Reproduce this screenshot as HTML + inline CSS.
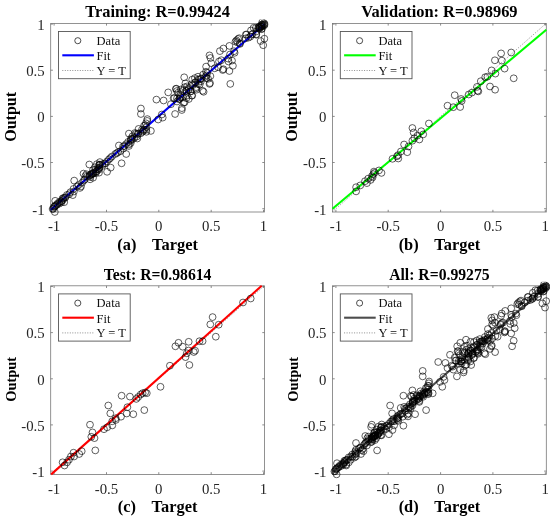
<!DOCTYPE html>
<html lang="en"><head><meta charset="utf-8"><title>Regression plots</title>
<style>
html,body{margin:0;padding:0;background:#fff;}
svg text{font-family:"Liberation Serif","Times New Roman",serif;fill:#000;}
.b{font-size:16.4px;font-weight:bold;}
.tl text{font-size:14.8px;fill:#262626;}
.lg text{font-size:12.5px;fill:#111;}
.pt circle{fill:none;stroke:#000;stroke-opacity:0.7;stroke-width:0.9;}
</style></head><body>
<svg width="550" height="524" viewBox="0 0 550 524" style="display:block">
<rect width="550" height="524" fill="#fff"/>
<g id="panel-a">
<clipPath id="clip-a"><rect x="46.7" y="19.4" width="221.8" height="196.6"/></clipPath>
<rect x="50.7" y="23.4" width="213.8" height="188.6" fill="#fff" stroke="#777" stroke-width="0.8"/>
<path d="M54.1 212.0v-2.2M54.1 23.4v2.2M50.7 208.7h2.2M264.5 208.7h-2.2M106.5 212.0v-2.2M106.5 23.4v2.2M50.7 162.5h2.2M264.5 162.5h-2.2M158.8 212.0v-2.2M158.8 23.4v2.2M50.7 116.4h2.2M264.5 116.4h-2.2M211.2 212.0v-2.2M211.2 23.4v2.2M50.7 70.2h2.2M264.5 70.2h-2.2M263.5 212.0v-2.2M263.5 23.4v2.2M50.7 24.1h2.2M264.5 24.1h-2.2" stroke="#6e6e6e" stroke-width="0.8" fill="none"/>
<g class="tl">
<text x="54.1" y="231.1" text-anchor="middle">-1</text>
<text x="44.7" y="214.5" text-anchor="end">-1</text>
<text x="106.5" y="231.1" text-anchor="middle">-0.5</text>
<text x="44.7" y="168.3" text-anchor="end">-0.5</text>
<text x="158.8" y="231.1" text-anchor="middle">0</text>
<text x="44.7" y="122.2" text-anchor="end">0</text>
<text x="211.2" y="231.1" text-anchor="middle">0.5</text>
<text x="44.7" y="76.0" text-anchor="end">0.5</text>
<text x="263.5" y="231.1" text-anchor="middle">1</text>
<text x="44.7" y="29.9" text-anchor="end">1</text>
</g>
<line x1="50.7" y1="211.7" x2="263.5" y2="24.1" stroke="#6a6a6a" stroke-width="0.75" stroke-dasharray="1 1.5" clip-path="url(#clip-a)"/>
<line x1="50.7" y1="209.9" x2="264.5" y2="24.2" stroke="#0000ff" stroke-width="2.1"/>
<g class="pt" clip-path="url(#clip-a)">
<circle cx="74.2" cy="180.6" r="3.4"/>
<circle cx="83.5" cy="173.6" r="3.4"/>
<circle cx="89.3" cy="164.5" r="3.4"/>
<circle cx="55.2" cy="200.8" r="3.4"/>
<circle cx="54.8" cy="212.0" r="3.4"/>
<circle cx="80.0" cy="187.9" r="3.4"/>
<circle cx="72.8" cy="195.1" r="3.4"/>
<circle cx="64.2" cy="202.2" r="3.4"/>
<circle cx="121.6" cy="163.3" r="3.4"/>
<circle cx="126.2" cy="154.0" r="3.4"/>
<circle cx="118.9" cy="145.5" r="3.4"/>
<circle cx="128.9" cy="133.6" r="3.4"/>
<circle cx="107.1" cy="171.8" r="3.4"/>
<circle cx="110.7" cy="167.6" r="3.4"/>
<circle cx="147.1" cy="120.9" r="3.4"/>
<circle cx="140.9" cy="108.5" r="3.4"/>
<circle cx="140.9" cy="114.0" r="3.4"/>
<circle cx="147.3" cy="119.1" r="3.4"/>
<circle cx="150.9" cy="130.9" r="3.4"/>
<circle cx="146.4" cy="131.8" r="3.4"/>
<circle cx="156.4" cy="99.6" r="3.4"/>
<circle cx="163.6" cy="100.5" r="3.4"/>
<circle cx="168.2" cy="92.4" r="3.4"/>
<circle cx="161.8" cy="114.5" r="3.4"/>
<circle cx="162.7" cy="117.6" r="3.4"/>
<circle cx="158.2" cy="119.5" r="3.4"/>
<circle cx="175.1" cy="114.0" r="3.4"/>
<circle cx="181.8" cy="110.0" r="3.4"/>
<circle cx="170.9" cy="104.2" r="3.4"/>
<circle cx="173.6" cy="98.2" r="3.4"/>
<circle cx="176.4" cy="88.7" r="3.4"/>
<circle cx="178.2" cy="92.7" r="3.4"/>
<circle cx="179.1" cy="99.1" r="3.4"/>
<circle cx="184.2" cy="77.3" r="3.4"/>
<circle cx="183.6" cy="102.7" r="3.4"/>
<circle cx="186.4" cy="98.2" r="3.4"/>
<circle cx="191.8" cy="95.5" r="3.4"/>
<circle cx="203.6" cy="91.8" r="3.4"/>
<circle cx="210.0" cy="83.1" r="3.4"/>
<circle cx="206.4" cy="78.2" r="3.4"/>
<circle cx="222.7" cy="70.0" r="3.4"/>
<circle cx="230.3" cy="83.9" r="3.4"/>
<circle cx="223.4" cy="69.2" r="3.4"/>
<circle cx="229.4" cy="71.0" r="3.4"/>
<circle cx="232.9" cy="65.8" r="3.4"/>
<circle cx="232.0" cy="60.6" r="3.4"/>
<circle cx="228.5" cy="61.5" r="3.4"/>
<circle cx="219.0" cy="61.5" r="3.4"/>
<circle cx="209.5" cy="55.4" r="3.4"/>
<circle cx="210.4" cy="58.0" r="3.4"/>
<circle cx="211.3" cy="63.2" r="3.4"/>
<circle cx="206.1" cy="66.6" r="3.4"/>
<circle cx="210.4" cy="76.1" r="3.4"/>
<circle cx="209.5" cy="83.9" r="3.4"/>
<circle cx="219.9" cy="51.1" r="3.4"/>
<circle cx="223.4" cy="48.5" r="3.4"/>
<circle cx="229.4" cy="45.9" r="3.4"/>
<circle cx="234.6" cy="52.8" r="3.4"/>
<circle cx="235.5" cy="41.6" r="3.4"/>
<circle cx="238.1" cy="39.0" r="3.4"/>
<circle cx="239.8" cy="43.3" r="3.4"/>
<circle cx="245.8" cy="34.7" r="3.4"/>
<circle cx="251.0" cy="30.4" r="3.4"/>
<circle cx="253.6" cy="27.8" r="3.4"/>
<circle cx="256.2" cy="34.7" r="3.4"/>
<circle cx="260.6" cy="41.0" r="3.4"/>
<circle cx="263.2" cy="45.2" r="3.4"/>
<circle cx="264.4" cy="38.7" r="3.4"/>
<circle cx="246.5" cy="34.5" r="3.4"/>
<circle cx="181.9" cy="108.1" r="3.4"/>
<circle cx="202.6" cy="90.8" r="3.4"/>
<circle cx="200.9" cy="81.3" r="3.4"/>
<circle cx="175.8" cy="88.9" r="3.4"/>
<circle cx="177.0" cy="91.0" r="3.4"/>
<circle cx="198.0" cy="76.7" r="3.4"/>
<circle cx="192.2" cy="79.6" r="3.4"/>
<circle cx="185.4" cy="83.4" r="3.4"/>
<circle cx="187.1" cy="86.4" r="3.4"/>
<circle cx="188.8" cy="88.0" r="3.4"/>
<circle cx="184.6" cy="87.2" r="3.4"/>
<circle cx="191.7" cy="84.3" r="3.4"/>
<circle cx="199.7" cy="84.7" r="3.4"/>
<circle cx="196.4" cy="89.7" r="3.4"/>
<circle cx="192.2" cy="95.6" r="3.4"/>
<circle cx="184.6" cy="102.3" r="3.4"/>
<circle cx="177.0" cy="101.5" r="3.4"/>
<circle cx="174.5" cy="98.1" r="3.4"/>
<circle cx="180.4" cy="94.8" r="3.4"/>
<circle cx="203.1" cy="74.6" r="3.4"/>
<circle cx="207.3" cy="72.9" r="3.4"/>
<circle cx="200.6" cy="78.8" r="3.4"/>
<circle cx="208.1" cy="78.8" r="3.4"/>
<circle cx="188.8" cy="99.0" r="3.4"/>
<circle cx="195.5" cy="82.2" r="3.4"/>
<circle cx="190.5" cy="91.4" r="3.4"/>
<circle cx="182.9" cy="90.6" r="3.4"/>
<circle cx="179.6" cy="99.0" r="3.4"/>
<circle cx="236.5" cy="40.4" r="3.4"/>
<circle cx="237.4" cy="42.2" r="3.4"/>
<circle cx="239.2" cy="38.2" r="3.4"/>
<circle cx="52.6" cy="209.0" r="3.4"/>
<circle cx="53.4" cy="208.7" r="3.4"/>
<circle cx="53.9" cy="206.9" r="3.4"/>
<circle cx="54.8" cy="206.5" r="3.4"/>
<circle cx="55.0" cy="205.9" r="3.4"/>
<circle cx="56.0" cy="205.4" r="3.4"/>
<circle cx="57.1" cy="204.6" r="3.4"/>
<circle cx="57.4" cy="203.7" r="3.4"/>
<circle cx="59.3" cy="203.6" r="3.4"/>
<circle cx="59.1" cy="202.2" r="3.4"/>
<circle cx="61.4" cy="202.4" r="3.4"/>
<circle cx="61.0" cy="201.4" r="3.4"/>
<circle cx="61.7" cy="200.9" r="3.4"/>
<circle cx="63.0" cy="199.7" r="3.4"/>
<circle cx="62.5" cy="198.5" r="3.4"/>
<circle cx="63.6" cy="198.0" r="3.4"/>
<circle cx="65.0" cy="197.8" r="3.4"/>
<circle cx="65.4" cy="197.2" r="3.4"/>
<circle cx="66.9" cy="195.0" r="3.4"/>
<circle cx="69.2" cy="194.2" r="3.4"/>
<circle cx="70.4" cy="192.2" r="3.4"/>
<circle cx="73.9" cy="191.5" r="3.4"/>
<circle cx="73.5" cy="188.9" r="3.4"/>
<circle cx="76.9" cy="186.5" r="3.4"/>
<circle cx="78.5" cy="185.1" r="3.4"/>
<circle cx="81.0" cy="186.5" r="3.4"/>
<circle cx="82.1" cy="182.7" r="3.4"/>
<circle cx="83.8" cy="180.5" r="3.4"/>
<circle cx="84.7" cy="179.5" r="3.4"/>
<circle cx="85.4" cy="176.0" r="3.4"/>
<circle cx="87.2" cy="176.7" r="3.4"/>
<circle cx="90.1" cy="179.3" r="3.4"/>
<circle cx="86.5" cy="174.2" r="3.4"/>
<circle cx="90.1" cy="177.0" r="3.4"/>
<circle cx="89.5" cy="175.7" r="3.4"/>
<circle cx="90.0" cy="175.0" r="3.4"/>
<circle cx="93.1" cy="177.7" r="3.4"/>
<circle cx="91.0" cy="174.7" r="3.4"/>
<circle cx="91.6" cy="174.1" r="3.4"/>
<circle cx="92.0" cy="173.6" r="3.4"/>
<circle cx="92.9" cy="173.9" r="3.4"/>
<circle cx="93.7" cy="173.2" r="3.4"/>
<circle cx="93.6" cy="172.7" r="3.4"/>
<circle cx="95.7" cy="173.3" r="3.4"/>
<circle cx="93.0" cy="170.1" r="3.4"/>
<circle cx="95.9" cy="171.6" r="3.4"/>
<circle cx="96.6" cy="171.4" r="3.4"/>
<circle cx="95.4" cy="169.5" r="3.4"/>
<circle cx="99.0" cy="172.7" r="3.4"/>
<circle cx="95.0" cy="167.2" r="3.4"/>
<circle cx="97.7" cy="169.3" r="3.4"/>
<circle cx="99.1" cy="169.6" r="3.4"/>
<circle cx="98.8" cy="168.1" r="3.4"/>
<circle cx="99.3" cy="167.9" r="3.4"/>
<circle cx="96.9" cy="164.1" r="3.4"/>
<circle cx="99.1" cy="165.3" r="3.4"/>
<circle cx="99.4" cy="164.8" r="3.4"/>
<circle cx="99.8" cy="164.7" r="3.4"/>
<circle cx="102.4" cy="165.9" r="3.4"/>
<circle cx="99.9" cy="162.1" r="3.4"/>
<circle cx="102.2" cy="164.2" r="3.4"/>
<circle cx="104.3" cy="163.7" r="3.4"/>
<circle cx="105.3" cy="163.3" r="3.4"/>
<circle cx="107.0" cy="161.4" r="3.4"/>
<circle cx="108.9" cy="159.4" r="3.4"/>
<circle cx="110.3" cy="158.1" r="3.4"/>
<circle cx="111.9" cy="156.5" r="3.4"/>
<circle cx="115.3" cy="154.0" r="3.4"/>
<circle cx="116.8" cy="153.1" r="3.4"/>
<circle cx="118.2" cy="152.1" r="3.4"/>
<circle cx="120.5" cy="151.1" r="3.4"/>
<circle cx="123.3" cy="148.6" r="3.4"/>
<circle cx="123.0" cy="146.5" r="3.4"/>
<circle cx="124.4" cy="145.9" r="3.4"/>
<circle cx="126.1" cy="144.1" r="3.4"/>
<circle cx="128.9" cy="146.0" r="3.4"/>
<circle cx="128.8" cy="144.5" r="3.4"/>
<circle cx="128.1" cy="141.9" r="3.4"/>
<circle cx="130.8" cy="142.9" r="3.4"/>
<circle cx="130.9" cy="140.7" r="3.4"/>
<circle cx="131.1" cy="139.5" r="3.4"/>
<circle cx="131.0" cy="138.6" r="3.4"/>
<circle cx="132.6" cy="139.1" r="3.4"/>
<circle cx="132.4" cy="136.3" r="3.4"/>
<circle cx="134.4" cy="137.8" r="3.4"/>
<circle cx="137.3" cy="138.5" r="3.4"/>
<circle cx="136.8" cy="136.5" r="3.4"/>
<circle cx="135.0" cy="133.0" r="3.4"/>
<circle cx="136.2" cy="133.7" r="3.4"/>
<circle cx="137.7" cy="134.1" r="3.4"/>
<circle cx="138.4" cy="133.4" r="3.4"/>
<circle cx="140.7" cy="133.3" r="3.4"/>
<circle cx="138.6" cy="128.9" r="3.4"/>
<circle cx="142.5" cy="131.8" r="3.4"/>
<circle cx="142.0" cy="129.6" r="3.4"/>
<circle cx="143.2" cy="130.7" r="3.4"/>
<circle cx="143.9" cy="129.8" r="3.4"/>
<circle cx="146.2" cy="129.8" r="3.4"/>
<circle cx="144.0" cy="125.8" r="3.4"/>
<circle cx="146.5" cy="127.1" r="3.4"/>
<circle cx="145.3" cy="125.3" r="3.4"/>
<circle cx="145.9" cy="123.3" r="3.4"/>
<circle cx="177.0" cy="98.4" r="3.4"/>
<circle cx="180.6" cy="97.3" r="3.4"/>
<circle cx="183.0" cy="97.4" r="3.4"/>
<circle cx="180.8" cy="89.5" r="3.4"/>
<circle cx="187.0" cy="95.5" r="3.4"/>
<circle cx="186.2" cy="90.8" r="3.4"/>
<circle cx="191.0" cy="91.4" r="3.4"/>
<circle cx="195.8" cy="88.5" r="3.4"/>
<circle cx="196.1" cy="87.1" r="3.4"/>
<circle cx="194.9" cy="78.1" r="3.4"/>
<circle cx="186.4" cy="91.1" r="3.4"/>
<circle cx="188.4" cy="90.0" r="3.4"/>
<circle cx="192.8" cy="85.2" r="3.4"/>
<circle cx="194.9" cy="82.8" r="3.4"/>
<circle cx="198.3" cy="84.1" r="3.4"/>
<circle cx="197.8" cy="79.6" r="3.4"/>
<circle cx="201.4" cy="78.6" r="3.4"/>
<circle cx="205.6" cy="76.7" r="3.4"/>
<circle cx="199.3" cy="79.6" r="3.4"/>
<circle cx="206.3" cy="75.4" r="3.4"/>
<circle cx="206.0" cy="71.7" r="3.4"/>
<circle cx="214.7" cy="68.3" r="3.4"/>
<circle cx="218.1" cy="67.2" r="3.4"/>
<circle cx="221.3" cy="60.2" r="3.4"/>
<circle cx="228.1" cy="58.6" r="3.4"/>
<circle cx="230.0" cy="54.5" r="3.4"/>
<circle cx="234.0" cy="51.2" r="3.4"/>
<circle cx="240.0" cy="43.9" r="3.4"/>
<circle cx="245.6" cy="38.4" r="3.4"/>
<circle cx="248.5" cy="37.6" r="3.4"/>
<circle cx="250.4" cy="36.6" r="3.4"/>
<circle cx="251.4" cy="34.7" r="3.4"/>
<circle cx="252.6" cy="34.0" r="3.4"/>
<circle cx="256.2" cy="34.3" r="3.4"/>
<circle cx="256.5" cy="31.4" r="3.4"/>
<circle cx="255.8" cy="28.0" r="3.4"/>
<circle cx="258.4" cy="27.4" r="3.4"/>
<circle cx="259.2" cy="28.7" r="3.4"/>
<circle cx="258.8" cy="27.7" r="3.4"/>
<circle cx="259.8" cy="27.9" r="3.4"/>
<circle cx="261.4" cy="29.2" r="3.4"/>
<circle cx="259.3" cy="26.5" r="3.4"/>
<circle cx="262.0" cy="28.7" r="3.4"/>
<circle cx="260.6" cy="26.7" r="3.4"/>
<circle cx="261.1" cy="26.6" r="3.4"/>
<circle cx="261.8" cy="26.7" r="3.4"/>
<circle cx="261.5" cy="25.7" r="3.4"/>
<circle cx="261.6" cy="24.7" r="3.4"/>
<circle cx="262.5" cy="25.5" r="3.4"/>
<circle cx="262.1" cy="24.4" r="3.4"/>
<circle cx="264.1" cy="25.5" r="3.4"/>
<circle cx="263.9" cy="24.5" r="3.4"/>
<circle cx="262.2" cy="22.2" r="3.4"/>
<circle cx="264.8" cy="24.3" r="3.4"/>
<circle cx="264.0" cy="23.2" r="3.4"/>
</g>
<rect x="58.5" y="31.5" width="71.7" height="47.2" fill="#fff" stroke="#555" stroke-width="0.9"/>
<circle cx="77.8" cy="40.7" r="3.05" fill="none" stroke="#222" stroke-width="0.8"/>
<line x1="62.3" x2="93.9" y1="55.3" y2="55.3" stroke="#0000ff" stroke-width="2.1"/>
<line x1="62.3" x2="93.9" y1="70.5" y2="70.5" stroke="#6a6a6a" stroke-width="0.75" stroke-dasharray="1 1.5"/>
<g class="lg"><text x="96.6" y="44.6">Data</text><text x="96.6" y="60.2">Fit</text><text x="96.6" y="74.9">Y = T</text></g>
<text class="b" style="font-size:16.4px" x="157.6" y="17.2" text-anchor="middle">Training: R=0.99424</text>
<text class="b xl" x="157.6" y="249.8" text-anchor="middle">(a)<tspan dx="15.6">Target</tspan></text>
<text class="b" style="font-size:16.0px" transform="translate(15.6 116.9) rotate(-90)" text-anchor="middle">Output</text>
</g>
<g id="panel-b">
<clipPath id="clip-b"><rect x="328.5" y="19.4" width="221.8" height="196.6"/></clipPath>
<rect x="332.5" y="23.4" width="213.8" height="188.6" fill="#fff" stroke="#777" stroke-width="0.8"/>
<path d="M335.9 212.0v-2.2M335.9 23.4v2.2M332.5 208.7h2.2M546.3 208.7h-2.2M388.2 212.0v-2.2M388.2 23.4v2.2M332.5 162.5h2.2M546.3 162.5h-2.2M440.6 212.0v-2.2M440.6 23.4v2.2M332.5 116.4h2.2M546.3 116.4h-2.2M492.9 212.0v-2.2M492.9 23.4v2.2M332.5 70.2h2.2M546.3 70.2h-2.2M545.3 212.0v-2.2M545.3 23.4v2.2M332.5 24.1h2.2M546.3 24.1h-2.2" stroke="#6e6e6e" stroke-width="0.8" fill="none"/>
<g class="tl">
<text x="335.9" y="231.1" text-anchor="middle">-1</text>
<text x="326.5" y="214.5" text-anchor="end">-1</text>
<text x="388.2" y="231.1" text-anchor="middle">-0.5</text>
<text x="326.5" y="168.3" text-anchor="end">-0.5</text>
<text x="440.6" y="231.1" text-anchor="middle">0</text>
<text x="326.5" y="122.2" text-anchor="end">0</text>
<text x="492.9" y="231.1" text-anchor="middle">0.5</text>
<text x="326.5" y="76.0" text-anchor="end">0.5</text>
<text x="545.3" y="231.1" text-anchor="middle">1</text>
<text x="326.5" y="29.9" text-anchor="end">1</text>
</g>
<line x1="332.5" y1="211.7" x2="545.3" y2="24.1" stroke="#6a6a6a" stroke-width="0.75" stroke-dasharray="1 1.5" clip-path="url(#clip-b)"/>
<line x1="332.5" y1="208.8" x2="546.3" y2="29.7" stroke="#00ff00" stroke-width="2.1"/>
<g class="pt" clip-path="url(#clip-b)">
<circle cx="356.1" cy="187.2" r="3.4"/>
<circle cx="356.1" cy="191.4" r="3.4"/>
<circle cx="360.3" cy="185.4" r="3.4"/>
<circle cx="365.0" cy="181.2" r="3.4"/>
<circle cx="366.9" cy="183.1" r="3.4"/>
<circle cx="368.2" cy="178.6" r="3.4"/>
<circle cx="370.7" cy="179.9" r="3.4"/>
<circle cx="372.0" cy="176.1" r="3.4"/>
<circle cx="373.3" cy="174.2" r="3.4"/>
<circle cx="373.9" cy="171.6" r="3.4"/>
<circle cx="372.6" cy="177.4" r="3.4"/>
<circle cx="374.5" cy="172.9" r="3.4"/>
<circle cx="379.0" cy="170.4" r="3.4"/>
<circle cx="381.5" cy="172.9" r="3.4"/>
<circle cx="392.5" cy="158.8" r="3.4"/>
<circle cx="397.0" cy="156.3" r="3.4"/>
<circle cx="398.3" cy="158.5" r="3.4"/>
<circle cx="398.1" cy="155.1" r="3.4"/>
<circle cx="400.9" cy="151.5" r="3.4"/>
<circle cx="407.3" cy="152.2" r="3.4"/>
<circle cx="404.1" cy="144.5" r="3.4"/>
<circle cx="408.5" cy="146.5" r="3.4"/>
<circle cx="412.4" cy="140.7" r="3.4"/>
<circle cx="414.3" cy="138.2" r="3.4"/>
<circle cx="412.4" cy="128.0" r="3.4"/>
<circle cx="413.6" cy="132.5" r="3.4"/>
<circle cx="419.4" cy="139.5" r="3.4"/>
<circle cx="421.3" cy="131.2" r="3.4"/>
<circle cx="423.2" cy="134.4" r="3.4"/>
<circle cx="417.5" cy="135.6" r="3.4"/>
<circle cx="428.9" cy="123.5" r="3.4"/>
<circle cx="447.5" cy="105.7" r="3.4"/>
<circle cx="453.3" cy="107.2" r="3.4"/>
<circle cx="460.2" cy="107.0" r="3.4"/>
<circle cx="454.7" cy="95.2" r="3.4"/>
<circle cx="461.1" cy="99.0" r="3.4"/>
<circle cx="461.7" cy="100.9" r="3.4"/>
<circle cx="468.7" cy="94.5" r="3.4"/>
<circle cx="471.9" cy="92.6" r="3.4"/>
<circle cx="477.0" cy="86.9" r="3.4"/>
<circle cx="477.6" cy="90.7" r="3.4"/>
<circle cx="478.3" cy="91.4" r="3.4"/>
<circle cx="480.8" cy="81.2" r="3.4"/>
<circle cx="485.2" cy="77.2" r="3.4"/>
<circle cx="487.4" cy="76.7" r="3.4"/>
<circle cx="491.6" cy="70.4" r="3.4"/>
<circle cx="495.4" cy="73.6" r="3.4"/>
<circle cx="490.0" cy="86.5" r="3.4"/>
<circle cx="495.1" cy="89.7" r="3.4"/>
<circle cx="494.9" cy="60.3" r="3.4"/>
<circle cx="501.8" cy="60.6" r="3.4"/>
<circle cx="501.1" cy="53.4" r="3.4"/>
<circle cx="504.6" cy="68.6" r="3.4"/>
<circle cx="511.2" cy="52.5" r="3.4"/>
<circle cx="513.7" cy="78.3" r="3.4"/>
</g>
<rect x="340.3" y="31.5" width="71.7" height="47.2" fill="#fff" stroke="#555" stroke-width="0.9"/>
<circle cx="359.6" cy="40.7" r="3.05" fill="none" stroke="#222" stroke-width="0.8"/>
<line x1="344.1" x2="375.7" y1="55.3" y2="55.3" stroke="#00ff00" stroke-width="2.1"/>
<line x1="344.1" x2="375.7" y1="70.5" y2="70.5" stroke="#6a6a6a" stroke-width="0.75" stroke-dasharray="1 1.5"/>
<g class="lg"><text x="378.4" y="44.6">Data</text><text x="378.4" y="60.2">Fit</text><text x="378.4" y="74.9">Y = T</text></g>
<text class="b" style="font-size:16.4px" x="439.4" y="17.2" text-anchor="middle">Validation: R=0.98969</text>
<text class="b xl" x="439.4" y="249.8" text-anchor="middle">(b)<tspan dx="15.6">Target</tspan></text>
<text class="b" style="font-size:16.0px" transform="translate(297.4 116.9) rotate(-90)" text-anchor="middle">Output</text>
</g>
<g id="panel-c">
<clipPath id="clip-c"><rect x="46.7" y="281.8" width="221.8" height="196.6"/></clipPath>
<rect x="50.7" y="285.8" width="213.8" height="188.6" fill="#fff" stroke="#777" stroke-width="0.8"/>
<path d="M54.1 474.4v-2.2M54.1 285.8v2.2M50.7 471.1h2.2M264.5 471.1h-2.2M106.5 474.4v-2.2M106.5 285.8v2.2M50.7 424.9h2.2M264.5 424.9h-2.2M158.8 474.4v-2.2M158.8 285.8v2.2M50.7 378.8h2.2M264.5 378.8h-2.2M211.2 474.4v-2.2M211.2 285.8v2.2M50.7 332.6h2.2M264.5 332.6h-2.2M263.5 474.4v-2.2M263.5 285.8v2.2M50.7 286.5h2.2M264.5 286.5h-2.2" stroke="#6e6e6e" stroke-width="0.8" fill="none"/>
<g class="tl">
<text x="54.1" y="493.5" text-anchor="middle">-1</text>
<text x="44.7" y="476.9" text-anchor="end">-1</text>
<text x="106.5" y="493.5" text-anchor="middle">-0.5</text>
<text x="44.7" y="430.8" text-anchor="end">-0.5</text>
<text x="158.8" y="493.5" text-anchor="middle">0</text>
<text x="44.7" y="384.6" text-anchor="end">0</text>
<text x="211.2" y="493.5" text-anchor="middle">0.5</text>
<text x="44.7" y="338.4" text-anchor="end">0.5</text>
<text x="263.5" y="493.5" text-anchor="middle">1</text>
<text x="44.7" y="292.3" text-anchor="end">1</text>
</g>
<line x1="50.7" y1="474.1" x2="263.5" y2="286.5" stroke="#6a6a6a" stroke-width="0.75" stroke-dasharray="1 1.5" clip-path="url(#clip-c)"/>
<line x1="51.2" y1="474.4" x2="261.7" y2="285.8" stroke="#ff0000" stroke-width="2.1"/>
<g class="pt" clip-path="url(#clip-c)">
<circle cx="62.6" cy="462.3" r="3.4"/>
<circle cx="64.5" cy="465.5" r="3.4"/>
<circle cx="67.1" cy="462.3" r="3.4"/>
<circle cx="69.0" cy="459.7" r="3.4"/>
<circle cx="70.9" cy="456.5" r="3.4"/>
<circle cx="73.5" cy="452.7" r="3.4"/>
<circle cx="74.1" cy="456.5" r="3.4"/>
<circle cx="79.2" cy="454.0" r="3.4"/>
<circle cx="81.7" cy="451.2" r="3.4"/>
<circle cx="90.0" cy="424.7" r="3.4"/>
<circle cx="92.5" cy="432.4" r="3.4"/>
<circle cx="91.3" cy="436.8" r="3.4"/>
<circle cx="94.5" cy="438.1" r="3.4"/>
<circle cx="95.3" cy="450.4" r="3.4"/>
<circle cx="104.0" cy="429.2" r="3.4"/>
<circle cx="107.2" cy="427.3" r="3.4"/>
<circle cx="112.3" cy="425.4" r="3.4"/>
<circle cx="112.2" cy="421.3" r="3.4"/>
<circle cx="110.3" cy="413.4" r="3.4"/>
<circle cx="115.7" cy="418.2" r="3.4"/>
<circle cx="115.9" cy="419.9" r="3.4"/>
<circle cx="108.3" cy="405.5" r="3.4"/>
<circle cx="121.0" cy="416.7" r="3.4"/>
<circle cx="121.6" cy="395.7" r="3.4"/>
<circle cx="129.9" cy="396.6" r="3.4"/>
<circle cx="127.4" cy="407.2" r="3.4"/>
<circle cx="126.7" cy="413.5" r="3.4"/>
<circle cx="133.3" cy="414.2" r="3.4"/>
<circle cx="144.3" cy="410.1" r="3.4"/>
<circle cx="136.3" cy="398.9" r="3.4"/>
<circle cx="138.2" cy="397.0" r="3.4"/>
<circle cx="140.7" cy="394.5" r="3.4"/>
<circle cx="142.6" cy="393.2" r="3.4"/>
<circle cx="145.2" cy="392.5" r="3.4"/>
<circle cx="146.8" cy="393.2" r="3.4"/>
<circle cx="160.5" cy="386.8" r="3.4"/>
<circle cx="169.9" cy="365.7" r="3.4"/>
<circle cx="189.4" cy="365.0" r="3.4"/>
<circle cx="185.5" cy="357.1" r="3.4"/>
<circle cx="186.8" cy="353.3" r="3.4"/>
<circle cx="188.7" cy="350.5" r="3.4"/>
<circle cx="193.8" cy="352.0" r="3.4"/>
<circle cx="195.1" cy="350.7" r="3.4"/>
<circle cx="175.4" cy="346.3" r="3.4"/>
<circle cx="178.5" cy="342.8" r="3.4"/>
<circle cx="182.7" cy="346.7" r="3.4"/>
<circle cx="188.7" cy="341.8" r="3.4"/>
<circle cx="199.5" cy="341.2" r="3.4"/>
<circle cx="202.6" cy="341.2" r="3.4"/>
<circle cx="215.8" cy="336.7" r="3.4"/>
<circle cx="210.3" cy="324.4" r="3.4"/>
<circle cx="218.7" cy="324.7" r="3.4"/>
<circle cx="212.6" cy="317.1" r="3.4"/>
<circle cx="243.0" cy="302.5" r="3.4"/>
<circle cx="250.7" cy="298.5" r="3.4"/>
</g>
<rect x="58.5" y="293.9" width="71.7" height="47.2" fill="#fff" stroke="#555" stroke-width="0.9"/>
<circle cx="77.8" cy="303.1" r="3.05" fill="none" stroke="#222" stroke-width="0.8"/>
<line x1="62.3" x2="93.9" y1="317.7" y2="317.7" stroke="#ff0000" stroke-width="2.1"/>
<line x1="62.3" x2="93.9" y1="332.9" y2="332.9" stroke="#6a6a6a" stroke-width="0.75" stroke-dasharray="1 1.5"/>
<g class="lg"><text x="96.6" y="307.0">Data</text><text x="96.6" y="322.6">Fit</text><text x="96.6" y="337.3">Y = T</text></g>
<text class="b" style="font-size:15.7px" x="157.6" y="279.6" text-anchor="middle">Test: R=0.98614</text>
<text class="b xl" x="157.6" y="512.2" text-anchor="middle">(c)<tspan dx="15.6">Target</tspan></text>
<text class="b" style="font-size:14.4px" transform="translate(16.0 379.3) rotate(-90)" text-anchor="middle">Output</text>
</g>
<g id="panel-d">
<clipPath id="clip-d"><rect x="328.5" y="281.8" width="221.8" height="196.6"/></clipPath>
<rect x="332.5" y="285.8" width="213.8" height="188.6" fill="#fff" stroke="#777" stroke-width="0.8"/>
<path d="M335.9 474.4v-2.2M335.9 285.8v2.2M332.5 471.1h2.2M546.3 471.1h-2.2M388.2 474.4v-2.2M388.2 285.8v2.2M332.5 424.9h2.2M546.3 424.9h-2.2M440.6 474.4v-2.2M440.6 285.8v2.2M332.5 378.8h2.2M546.3 378.8h-2.2M492.9 474.4v-2.2M492.9 285.8v2.2M332.5 332.6h2.2M546.3 332.6h-2.2M545.3 474.4v-2.2M545.3 285.8v2.2M332.5 286.5h2.2M546.3 286.5h-2.2" stroke="#6e6e6e" stroke-width="0.8" fill="none"/>
<g class="tl">
<text x="335.9" y="493.5" text-anchor="middle">-1</text>
<text x="326.5" y="476.9" text-anchor="end">-1</text>
<text x="388.2" y="493.5" text-anchor="middle">-0.5</text>
<text x="326.5" y="430.8" text-anchor="end">-0.5</text>
<text x="440.6" y="493.5" text-anchor="middle">0</text>
<text x="326.5" y="384.6" text-anchor="end">0</text>
<text x="492.9" y="493.5" text-anchor="middle">0.5</text>
<text x="326.5" y="338.4" text-anchor="end">0.5</text>
<text x="545.3" y="493.5" text-anchor="middle">1</text>
<text x="326.5" y="292.3" text-anchor="end">1</text>
</g>
<line x1="332.5" y1="474.1" x2="545.3" y2="286.5" stroke="#6a6a6a" stroke-width="0.75" stroke-dasharray="1 1.5" clip-path="url(#clip-d)"/>
<line x1="332.5" y1="472.0" x2="546.3" y2="287.0" stroke="#4d4d4d" stroke-width="2.1"/>
<g class="pt" clip-path="url(#clip-d)">
<circle cx="356.0" cy="443.0" r="3.4"/>
<circle cx="365.3" cy="436.0" r="3.4"/>
<circle cx="371.1" cy="426.9" r="3.4"/>
<circle cx="337.0" cy="463.2" r="3.4"/>
<circle cx="336.6" cy="474.4" r="3.4"/>
<circle cx="361.8" cy="450.3" r="3.4"/>
<circle cx="354.6" cy="457.5" r="3.4"/>
<circle cx="346.0" cy="464.6" r="3.4"/>
<circle cx="403.4" cy="425.7" r="3.4"/>
<circle cx="408.0" cy="416.4" r="3.4"/>
<circle cx="400.7" cy="407.9" r="3.4"/>
<circle cx="410.7" cy="396.0" r="3.4"/>
<circle cx="388.9" cy="434.2" r="3.4"/>
<circle cx="392.5" cy="430.0" r="3.4"/>
<circle cx="428.9" cy="383.3" r="3.4"/>
<circle cx="422.7" cy="370.9" r="3.4"/>
<circle cx="422.7" cy="376.4" r="3.4"/>
<circle cx="429.1" cy="381.5" r="3.4"/>
<circle cx="432.7" cy="393.3" r="3.4"/>
<circle cx="428.2" cy="394.2" r="3.4"/>
<circle cx="438.2" cy="362.0" r="3.4"/>
<circle cx="445.4" cy="362.9" r="3.4"/>
<circle cx="450.0" cy="354.8" r="3.4"/>
<circle cx="443.6" cy="376.9" r="3.4"/>
<circle cx="444.5" cy="380.0" r="3.4"/>
<circle cx="440.0" cy="381.9" r="3.4"/>
<circle cx="456.9" cy="376.4" r="3.4"/>
<circle cx="463.6" cy="372.4" r="3.4"/>
<circle cx="452.7" cy="366.6" r="3.4"/>
<circle cx="455.4" cy="360.6" r="3.4"/>
<circle cx="458.2" cy="351.1" r="3.4"/>
<circle cx="460.0" cy="355.1" r="3.4"/>
<circle cx="460.9" cy="361.5" r="3.4"/>
<circle cx="466.0" cy="339.7" r="3.4"/>
<circle cx="465.4" cy="365.1" r="3.4"/>
<circle cx="468.2" cy="360.6" r="3.4"/>
<circle cx="473.6" cy="357.9" r="3.4"/>
<circle cx="485.4" cy="354.2" r="3.4"/>
<circle cx="491.8" cy="345.5" r="3.4"/>
<circle cx="488.2" cy="340.6" r="3.4"/>
<circle cx="504.5" cy="332.4" r="3.4"/>
<circle cx="512.1" cy="346.3" r="3.4"/>
<circle cx="505.2" cy="331.6" r="3.4"/>
<circle cx="511.2" cy="333.4" r="3.4"/>
<circle cx="514.7" cy="328.2" r="3.4"/>
<circle cx="513.8" cy="323.0" r="3.4"/>
<circle cx="510.3" cy="323.9" r="3.4"/>
<circle cx="500.8" cy="323.9" r="3.4"/>
<circle cx="491.3" cy="317.8" r="3.4"/>
<circle cx="492.2" cy="320.4" r="3.4"/>
<circle cx="493.1" cy="325.6" r="3.4"/>
<circle cx="487.9" cy="329.0" r="3.4"/>
<circle cx="492.2" cy="338.5" r="3.4"/>
<circle cx="491.3" cy="346.3" r="3.4"/>
<circle cx="501.7" cy="313.5" r="3.4"/>
<circle cx="505.2" cy="310.9" r="3.4"/>
<circle cx="511.2" cy="308.3" r="3.4"/>
<circle cx="516.4" cy="315.2" r="3.4"/>
<circle cx="517.3" cy="304.0" r="3.4"/>
<circle cx="519.9" cy="301.4" r="3.4"/>
<circle cx="521.6" cy="305.7" r="3.4"/>
<circle cx="527.6" cy="297.1" r="3.4"/>
<circle cx="532.8" cy="292.8" r="3.4"/>
<circle cx="535.4" cy="290.2" r="3.4"/>
<circle cx="538.0" cy="297.1" r="3.4"/>
<circle cx="542.4" cy="303.4" r="3.4"/>
<circle cx="545.0" cy="307.6" r="3.4"/>
<circle cx="546.2" cy="301.1" r="3.4"/>
<circle cx="528.3" cy="296.9" r="3.4"/>
<circle cx="463.7" cy="370.5" r="3.4"/>
<circle cx="484.4" cy="353.2" r="3.4"/>
<circle cx="482.7" cy="343.7" r="3.4"/>
<circle cx="457.6" cy="351.3" r="3.4"/>
<circle cx="458.8" cy="353.4" r="3.4"/>
<circle cx="479.8" cy="339.1" r="3.4"/>
<circle cx="474.0" cy="342.0" r="3.4"/>
<circle cx="467.2" cy="345.8" r="3.4"/>
<circle cx="468.9" cy="348.8" r="3.4"/>
<circle cx="470.6" cy="350.4" r="3.4"/>
<circle cx="466.4" cy="349.6" r="3.4"/>
<circle cx="473.5" cy="346.7" r="3.4"/>
<circle cx="481.5" cy="347.1" r="3.4"/>
<circle cx="478.2" cy="352.1" r="3.4"/>
<circle cx="474.0" cy="358.0" r="3.4"/>
<circle cx="466.4" cy="364.7" r="3.4"/>
<circle cx="458.8" cy="363.9" r="3.4"/>
<circle cx="456.3" cy="360.5" r="3.4"/>
<circle cx="462.2" cy="357.2" r="3.4"/>
<circle cx="484.9" cy="337.0" r="3.4"/>
<circle cx="489.1" cy="335.3" r="3.4"/>
<circle cx="482.4" cy="341.2" r="3.4"/>
<circle cx="489.9" cy="341.2" r="3.4"/>
<circle cx="470.6" cy="361.4" r="3.4"/>
<circle cx="477.3" cy="344.6" r="3.4"/>
<circle cx="472.3" cy="353.8" r="3.4"/>
<circle cx="464.7" cy="353.0" r="3.4"/>
<circle cx="461.4" cy="361.4" r="3.4"/>
<circle cx="518.3" cy="302.8" r="3.4"/>
<circle cx="519.2" cy="304.6" r="3.4"/>
<circle cx="521.0" cy="300.6" r="3.4"/>
<circle cx="334.4" cy="471.4" r="3.4"/>
<circle cx="335.2" cy="471.1" r="3.4"/>
<circle cx="335.7" cy="469.3" r="3.4"/>
<circle cx="336.6" cy="468.9" r="3.4"/>
<circle cx="336.8" cy="468.3" r="3.4"/>
<circle cx="337.8" cy="467.8" r="3.4"/>
<circle cx="338.9" cy="467.0" r="3.4"/>
<circle cx="339.2" cy="466.1" r="3.4"/>
<circle cx="341.1" cy="466.0" r="3.4"/>
<circle cx="340.9" cy="464.6" r="3.4"/>
<circle cx="343.2" cy="464.8" r="3.4"/>
<circle cx="342.8" cy="463.8" r="3.4"/>
<circle cx="343.5" cy="463.3" r="3.4"/>
<circle cx="344.8" cy="462.1" r="3.4"/>
<circle cx="344.3" cy="460.9" r="3.4"/>
<circle cx="345.4" cy="460.4" r="3.4"/>
<circle cx="346.8" cy="460.2" r="3.4"/>
<circle cx="347.2" cy="459.6" r="3.4"/>
<circle cx="348.7" cy="457.4" r="3.4"/>
<circle cx="351.0" cy="456.6" r="3.4"/>
<circle cx="352.2" cy="454.6" r="3.4"/>
<circle cx="355.7" cy="453.9" r="3.4"/>
<circle cx="355.3" cy="451.3" r="3.4"/>
<circle cx="358.7" cy="448.9" r="3.4"/>
<circle cx="360.3" cy="447.5" r="3.4"/>
<circle cx="362.8" cy="448.9" r="3.4"/>
<circle cx="363.9" cy="445.1" r="3.4"/>
<circle cx="365.6" cy="442.9" r="3.4"/>
<circle cx="366.5" cy="441.9" r="3.4"/>
<circle cx="367.2" cy="438.4" r="3.4"/>
<circle cx="369.0" cy="439.1" r="3.4"/>
<circle cx="371.9" cy="441.7" r="3.4"/>
<circle cx="368.3" cy="436.6" r="3.4"/>
<circle cx="371.9" cy="439.4" r="3.4"/>
<circle cx="371.3" cy="438.1" r="3.4"/>
<circle cx="371.8" cy="437.4" r="3.4"/>
<circle cx="374.9" cy="440.1" r="3.4"/>
<circle cx="372.8" cy="437.1" r="3.4"/>
<circle cx="373.4" cy="436.5" r="3.4"/>
<circle cx="373.8" cy="436.0" r="3.4"/>
<circle cx="374.7" cy="436.3" r="3.4"/>
<circle cx="375.5" cy="435.6" r="3.4"/>
<circle cx="375.4" cy="435.1" r="3.4"/>
<circle cx="377.5" cy="435.7" r="3.4"/>
<circle cx="374.8" cy="432.5" r="3.4"/>
<circle cx="377.7" cy="434.0" r="3.4"/>
<circle cx="378.4" cy="433.8" r="3.4"/>
<circle cx="377.2" cy="431.9" r="3.4"/>
<circle cx="380.8" cy="435.1" r="3.4"/>
<circle cx="376.8" cy="429.6" r="3.4"/>
<circle cx="379.5" cy="431.7" r="3.4"/>
<circle cx="380.9" cy="432.0" r="3.4"/>
<circle cx="380.6" cy="430.5" r="3.4"/>
<circle cx="381.1" cy="430.3" r="3.4"/>
<circle cx="378.7" cy="426.5" r="3.4"/>
<circle cx="380.9" cy="427.7" r="3.4"/>
<circle cx="381.2" cy="427.2" r="3.4"/>
<circle cx="381.6" cy="427.1" r="3.4"/>
<circle cx="384.2" cy="428.3" r="3.4"/>
<circle cx="381.7" cy="424.5" r="3.4"/>
<circle cx="384.0" cy="426.6" r="3.4"/>
<circle cx="386.1" cy="426.1" r="3.4"/>
<circle cx="387.1" cy="425.7" r="3.4"/>
<circle cx="388.8" cy="423.8" r="3.4"/>
<circle cx="390.7" cy="421.8" r="3.4"/>
<circle cx="392.1" cy="420.5" r="3.4"/>
<circle cx="393.7" cy="418.9" r="3.4"/>
<circle cx="397.1" cy="416.4" r="3.4"/>
<circle cx="398.6" cy="415.5" r="3.4"/>
<circle cx="400.0" cy="414.5" r="3.4"/>
<circle cx="402.3" cy="413.5" r="3.4"/>
<circle cx="405.1" cy="411.0" r="3.4"/>
<circle cx="404.8" cy="408.9" r="3.4"/>
<circle cx="406.2" cy="408.3" r="3.4"/>
<circle cx="407.9" cy="406.5" r="3.4"/>
<circle cx="410.7" cy="408.4" r="3.4"/>
<circle cx="410.6" cy="406.9" r="3.4"/>
<circle cx="409.9" cy="404.3" r="3.4"/>
<circle cx="412.6" cy="405.3" r="3.4"/>
<circle cx="412.7" cy="403.1" r="3.4"/>
<circle cx="412.9" cy="401.9" r="3.4"/>
<circle cx="412.8" cy="401.0" r="3.4"/>
<circle cx="414.4" cy="401.5" r="3.4"/>
<circle cx="414.2" cy="398.7" r="3.4"/>
<circle cx="416.2" cy="400.2" r="3.4"/>
<circle cx="419.1" cy="400.9" r="3.4"/>
<circle cx="418.6" cy="398.9" r="3.4"/>
<circle cx="416.8" cy="395.4" r="3.4"/>
<circle cx="418.0" cy="396.1" r="3.4"/>
<circle cx="419.5" cy="396.5" r="3.4"/>
<circle cx="420.2" cy="395.8" r="3.4"/>
<circle cx="422.5" cy="395.7" r="3.4"/>
<circle cx="420.4" cy="391.3" r="3.4"/>
<circle cx="424.3" cy="394.2" r="3.4"/>
<circle cx="423.8" cy="392.0" r="3.4"/>
<circle cx="425.0" cy="393.1" r="3.4"/>
<circle cx="425.7" cy="392.2" r="3.4"/>
<circle cx="428.0" cy="392.2" r="3.4"/>
<circle cx="425.8" cy="388.2" r="3.4"/>
<circle cx="428.3" cy="389.5" r="3.4"/>
<circle cx="427.1" cy="387.7" r="3.4"/>
<circle cx="427.7" cy="385.7" r="3.4"/>
<circle cx="458.8" cy="360.8" r="3.4"/>
<circle cx="462.4" cy="359.7" r="3.4"/>
<circle cx="464.8" cy="359.8" r="3.4"/>
<circle cx="462.6" cy="351.9" r="3.4"/>
<circle cx="468.8" cy="357.9" r="3.4"/>
<circle cx="468.0" cy="353.2" r="3.4"/>
<circle cx="472.8" cy="353.8" r="3.4"/>
<circle cx="477.6" cy="350.9" r="3.4"/>
<circle cx="477.9" cy="349.5" r="3.4"/>
<circle cx="476.7" cy="340.5" r="3.4"/>
<circle cx="468.2" cy="353.5" r="3.4"/>
<circle cx="470.2" cy="352.4" r="3.4"/>
<circle cx="474.6" cy="347.6" r="3.4"/>
<circle cx="476.7" cy="345.2" r="3.4"/>
<circle cx="480.1" cy="346.5" r="3.4"/>
<circle cx="479.6" cy="342.0" r="3.4"/>
<circle cx="483.2" cy="341.0" r="3.4"/>
<circle cx="487.4" cy="339.1" r="3.4"/>
<circle cx="481.1" cy="342.0" r="3.4"/>
<circle cx="488.1" cy="337.8" r="3.4"/>
<circle cx="487.8" cy="334.1" r="3.4"/>
<circle cx="496.5" cy="330.7" r="3.4"/>
<circle cx="499.9" cy="329.6" r="3.4"/>
<circle cx="503.1" cy="322.6" r="3.4"/>
<circle cx="509.9" cy="321.0" r="3.4"/>
<circle cx="511.8" cy="316.9" r="3.4"/>
<circle cx="515.8" cy="313.6" r="3.4"/>
<circle cx="521.8" cy="306.3" r="3.4"/>
<circle cx="527.4" cy="300.8" r="3.4"/>
<circle cx="530.3" cy="300.0" r="3.4"/>
<circle cx="532.2" cy="299.0" r="3.4"/>
<circle cx="533.2" cy="297.1" r="3.4"/>
<circle cx="534.4" cy="296.4" r="3.4"/>
<circle cx="538.0" cy="296.7" r="3.4"/>
<circle cx="538.3" cy="293.8" r="3.4"/>
<circle cx="537.6" cy="290.4" r="3.4"/>
<circle cx="540.2" cy="289.8" r="3.4"/>
<circle cx="541.0" cy="291.1" r="3.4"/>
<circle cx="540.6" cy="290.1" r="3.4"/>
<circle cx="541.6" cy="290.3" r="3.4"/>
<circle cx="543.2" cy="291.6" r="3.4"/>
<circle cx="541.1" cy="288.9" r="3.4"/>
<circle cx="543.8" cy="291.1" r="3.4"/>
<circle cx="542.4" cy="289.1" r="3.4"/>
<circle cx="542.9" cy="289.0" r="3.4"/>
<circle cx="543.6" cy="289.1" r="3.4"/>
<circle cx="543.3" cy="288.1" r="3.4"/>
<circle cx="543.4" cy="287.1" r="3.4"/>
<circle cx="544.3" cy="287.9" r="3.4"/>
<circle cx="543.9" cy="286.8" r="3.4"/>
<circle cx="545.9" cy="287.9" r="3.4"/>
<circle cx="545.7" cy="286.9" r="3.4"/>
<circle cx="544.0" cy="284.6" r="3.4"/>
<circle cx="546.6" cy="286.7" r="3.4"/>
<circle cx="545.8" cy="285.6" r="3.4"/>
<circle cx="356.1" cy="449.6" r="3.4"/>
<circle cx="356.1" cy="453.8" r="3.4"/>
<circle cx="360.3" cy="447.8" r="3.4"/>
<circle cx="365.0" cy="443.6" r="3.4"/>
<circle cx="366.9" cy="445.5" r="3.4"/>
<circle cx="368.2" cy="441.0" r="3.4"/>
<circle cx="370.7" cy="442.3" r="3.4"/>
<circle cx="372.0" cy="438.5" r="3.4"/>
<circle cx="373.3" cy="436.6" r="3.4"/>
<circle cx="373.9" cy="434.0" r="3.4"/>
<circle cx="372.6" cy="439.8" r="3.4"/>
<circle cx="374.5" cy="435.3" r="3.4"/>
<circle cx="379.0" cy="432.8" r="3.4"/>
<circle cx="381.5" cy="435.3" r="3.4"/>
<circle cx="392.5" cy="421.2" r="3.4"/>
<circle cx="397.0" cy="418.7" r="3.4"/>
<circle cx="398.3" cy="420.9" r="3.4"/>
<circle cx="398.1" cy="417.5" r="3.4"/>
<circle cx="400.9" cy="413.9" r="3.4"/>
<circle cx="407.3" cy="414.6" r="3.4"/>
<circle cx="404.1" cy="406.9" r="3.4"/>
<circle cx="408.5" cy="408.9" r="3.4"/>
<circle cx="412.4" cy="403.1" r="3.4"/>
<circle cx="414.3" cy="400.6" r="3.4"/>
<circle cx="412.4" cy="390.4" r="3.4"/>
<circle cx="413.6" cy="394.9" r="3.4"/>
<circle cx="419.4" cy="401.9" r="3.4"/>
<circle cx="421.3" cy="393.6" r="3.4"/>
<circle cx="423.2" cy="396.8" r="3.4"/>
<circle cx="417.5" cy="398.0" r="3.4"/>
<circle cx="428.9" cy="385.9" r="3.4"/>
<circle cx="447.5" cy="368.1" r="3.4"/>
<circle cx="453.3" cy="369.6" r="3.4"/>
<circle cx="460.2" cy="369.4" r="3.4"/>
<circle cx="454.7" cy="357.6" r="3.4"/>
<circle cx="461.1" cy="361.4" r="3.4"/>
<circle cx="461.7" cy="363.3" r="3.4"/>
<circle cx="468.7" cy="356.9" r="3.4"/>
<circle cx="471.9" cy="355.0" r="3.4"/>
<circle cx="477.0" cy="349.3" r="3.4"/>
<circle cx="477.6" cy="353.1" r="3.4"/>
<circle cx="478.3" cy="353.8" r="3.4"/>
<circle cx="480.8" cy="343.6" r="3.4"/>
<circle cx="485.2" cy="339.6" r="3.4"/>
<circle cx="487.4" cy="339.1" r="3.4"/>
<circle cx="491.6" cy="332.8" r="3.4"/>
<circle cx="495.4" cy="336.0" r="3.4"/>
<circle cx="490.0" cy="348.9" r="3.4"/>
<circle cx="495.1" cy="352.1" r="3.4"/>
<circle cx="494.9" cy="322.7" r="3.4"/>
<circle cx="501.8" cy="323.0" r="3.4"/>
<circle cx="501.1" cy="315.8" r="3.4"/>
<circle cx="504.6" cy="331.0" r="3.4"/>
<circle cx="511.2" cy="314.9" r="3.4"/>
<circle cx="513.7" cy="340.7" r="3.4"/>
<circle cx="344.4" cy="462.3" r="3.4"/>
<circle cx="346.3" cy="465.5" r="3.4"/>
<circle cx="348.9" cy="462.3" r="3.4"/>
<circle cx="350.8" cy="459.7" r="3.4"/>
<circle cx="352.7" cy="456.5" r="3.4"/>
<circle cx="355.3" cy="452.7" r="3.4"/>
<circle cx="355.9" cy="456.5" r="3.4"/>
<circle cx="361.0" cy="454.0" r="3.4"/>
<circle cx="363.5" cy="451.2" r="3.4"/>
<circle cx="371.8" cy="424.7" r="3.4"/>
<circle cx="374.3" cy="432.4" r="3.4"/>
<circle cx="373.1" cy="436.8" r="3.4"/>
<circle cx="376.3" cy="438.1" r="3.4"/>
<circle cx="377.1" cy="450.4" r="3.4"/>
<circle cx="385.8" cy="429.2" r="3.4"/>
<circle cx="389.0" cy="427.3" r="3.4"/>
<circle cx="394.1" cy="425.4" r="3.4"/>
<circle cx="394.0" cy="421.3" r="3.4"/>
<circle cx="392.1" cy="413.4" r="3.4"/>
<circle cx="397.5" cy="418.2" r="3.4"/>
<circle cx="397.7" cy="419.9" r="3.4"/>
<circle cx="390.1" cy="405.5" r="3.4"/>
<circle cx="402.8" cy="416.7" r="3.4"/>
<circle cx="403.4" cy="395.7" r="3.4"/>
<circle cx="411.7" cy="396.6" r="3.4"/>
<circle cx="409.2" cy="407.2" r="3.4"/>
<circle cx="408.5" cy="413.5" r="3.4"/>
<circle cx="415.1" cy="414.2" r="3.4"/>
<circle cx="426.1" cy="410.1" r="3.4"/>
<circle cx="418.1" cy="398.9" r="3.4"/>
<circle cx="420.0" cy="397.0" r="3.4"/>
<circle cx="422.5" cy="394.5" r="3.4"/>
<circle cx="424.4" cy="393.2" r="3.4"/>
<circle cx="427.0" cy="392.5" r="3.4"/>
<circle cx="428.6" cy="393.2" r="3.4"/>
<circle cx="442.3" cy="386.8" r="3.4"/>
<circle cx="451.7" cy="365.7" r="3.4"/>
<circle cx="471.2" cy="365.0" r="3.4"/>
<circle cx="467.3" cy="357.1" r="3.4"/>
<circle cx="468.6" cy="353.3" r="3.4"/>
<circle cx="470.5" cy="350.5" r="3.4"/>
<circle cx="475.6" cy="352.0" r="3.4"/>
<circle cx="476.9" cy="350.7" r="3.4"/>
<circle cx="457.2" cy="346.3" r="3.4"/>
<circle cx="460.3" cy="342.8" r="3.4"/>
<circle cx="464.5" cy="346.7" r="3.4"/>
<circle cx="470.5" cy="341.8" r="3.4"/>
<circle cx="481.3" cy="341.2" r="3.4"/>
<circle cx="484.4" cy="341.2" r="3.4"/>
<circle cx="497.6" cy="336.7" r="3.4"/>
<circle cx="492.1" cy="324.4" r="3.4"/>
<circle cx="500.5" cy="324.7" r="3.4"/>
<circle cx="494.4" cy="317.1" r="3.4"/>
<circle cx="524.8" cy="302.5" r="3.4"/>
<circle cx="532.5" cy="298.5" r="3.4"/>
</g>
<rect x="340.3" y="293.9" width="71.7" height="47.2" fill="#fff" stroke="#555" stroke-width="0.9"/>
<circle cx="359.6" cy="303.1" r="3.05" fill="none" stroke="#222" stroke-width="0.8"/>
<line x1="344.1" x2="375.7" y1="317.7" y2="317.7" stroke="#4d4d4d" stroke-width="2.1"/>
<line x1="344.1" x2="375.7" y1="332.9" y2="332.9" stroke="#6a6a6a" stroke-width="0.75" stroke-dasharray="1 1.5"/>
<g class="lg"><text x="378.4" y="307.0">Data</text><text x="378.4" y="322.6">Fit</text><text x="378.4" y="337.3">Y = T</text></g>
<text class="b" style="font-size:15.7px" x="439.4" y="279.6" text-anchor="middle">All: R=0.99275</text>
<text class="b xl" x="439.4" y="512.2" text-anchor="middle">(d)<tspan dx="15.6">Target</tspan></text>
<text class="b" style="font-size:14.4px" transform="translate(297.8 379.3) rotate(-90)" text-anchor="middle">Output</text>
</g>
</svg>
</body></html>
